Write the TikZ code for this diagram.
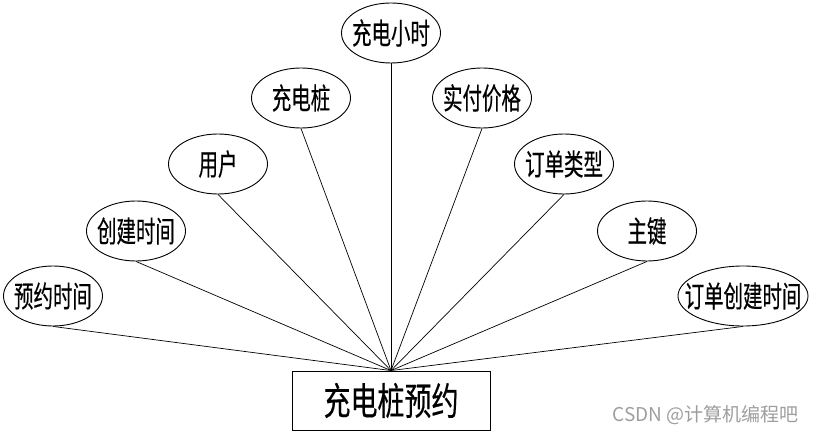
\documentclass[tikz,border=0pt]{standalone}
\usepackage{fontspec}
\usetikzlibrary{shapes.geometric}
\newfontfamily\cjkattr[FakeStretch=0.66,FakeBold=0.4]{Noto Sans CJK SC}
\newfontfamily\cjkbox[FakeStretch=0.71,FakeBold=0.4]{Noto Sans CJK SC}
\newfontfamily\cjkmark{Noto Sans CJK SC}
\newcommand\zt[1]{\makebox[0pt]{#1}}
\begin{document}
\begin{tikzpicture}[x=1pt,y=-1pt,
  attr/.style={ellipse, draw=black, line width=0.9pt, inner sep=0pt,
    minimum width=99pt, minimum height=60pt, font=\cjkattr\fontsize{29.5}{32}\selectfont},
  ent/.style={rectangle, draw=black, line width=0.9pt, inner sep=0pt,
    minimum width=198pt, minimum height=59pt, font=\cjkbox\fontsize{38}{42}\selectfont},
  link/.style={draw=black, line width=0.7pt}]
\useasboundingbox (0,0) rectangle (816,435);
\node[ent] (r) at (391,400.5) {充电桩预约};
\node[attr] (a1) at (53,296) {\zt{预约时间}};
\node[attr] (a2) at (136,231) {\zt{创建时间}};
\node[attr] (a3) at (218,164) {\zt{用户}};
\node[attr] (a4) at (301,98) {\zt{充电桩}};
\node[attr] (a5) at (391,33) {\zt{充电小时}};
\node[attr] (a6) at (482,98) {\zt{实付价格}};
\node[attr] (a7) at (564,164) {\zt{订单类型}};
\node[attr] (a8) at (647,231) {\zt{主键}};
\node[attr, minimum width=130pt] (a9) at (743,296) {\zt{订单创建时间}};
\foreach \a in {a1,a2,a3,a4,a5,a6,a7,a8,a9}
  \draw[link] (\a.south) -- (r.north);
\node[text=black!38, font=\cjkmark\fontsize{19}{22}\selectfont, inner sep=0pt] (wm) at (705.5,415) {CSDN @计算机编程吧};
\end{tikzpicture}
\end{document}
